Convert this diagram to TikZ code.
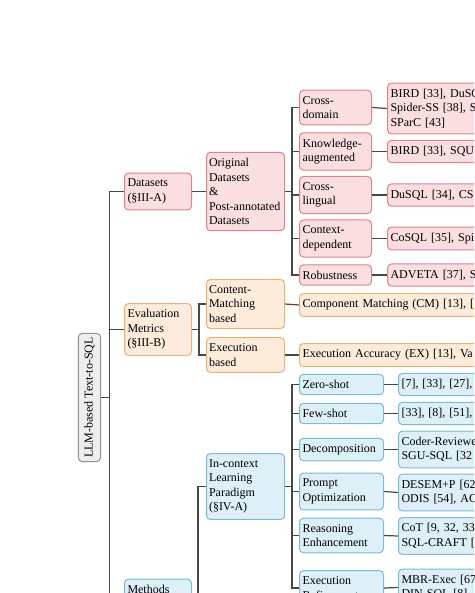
\documentclass[tikz,border=0pt]{standalone}
\usepackage{fontspec}
\setmainfont{Liberation Serif}
\usepackage{tikz}
\usetikzlibrary{shapes}

\definecolor{redfill}{RGB}{250,222,224}
\definecolor{redline}{RGB}{224,130,138}
\definecolor{orafill}{RGB}{253,236,220}
\definecolor{oraline}{RGB}{238,175,112}
\definecolor{blufill}{RGB}{221,240,248}
\definecolor{bluline}{RGB}{118,188,214}
\definecolor{grayfill}{RGB}{238,238,238}
\definecolor{grayline}{RGB}{145,145,145}
\definecolor{connline}{RGB}{72,72,72}

\tikzset{
  box/.style={draw, rounded corners=4pt, align=left, anchor=west, line width=1pt,
    inner xsep=3pt, inner ysep=6pt, font=\fontsize{12}{14.5}\selectfont},
  lvlone/.style={box, text width=61pt},
  lvltwo/.style={box, text width=73pt, inner xsep=2.5pt},
  redthree/.style={box, text width=66pt, fill=redfill, draw=redline},
  bluthree/.style={box, text width=78pt, fill=blufill, draw=bluline},
  leaf/.style={box, text width=220pt},
  redbox/.style={fill=redfill, draw=redline},
  orabox/.style={fill=orafill, draw=oraline},
  blubox/.style={fill=blufill, draw=bluline},
  conn/.style={draw=connline, line width=1.2pt}
}

\begin{document}
\begin{tikzpicture}[x=1pt, y=-1pt]
                    \useasboundingbox (0,0) rectangle (474,593);
                    \clip (0,0) rectangle (474,593);

                    % Define nodes
                    \node (root) at (89.5,397.5) [draw=grayline, fill=grayfill, rounded corners=4pt, rotate=90, line width=1pt,
                        inner xsep=3.7pt, inner ysep=6pt, font=\fontsize{12}{14.5}\selectfont] {LLM-based Text-to-SQL};

                    \node (ds) at (124,191.5) [lvlone, redbox] {Datasets\\(§III-A)};
                    \node (em) at (124,329.5) [lvlone, orabox] {Evaluation\\Metrics\\(§III-B)};
                    \node (me) at (124,596.5) [lvlone, blubox] {Methods\\\mbox{}};

                    \node (ori) at (206,191.5) [lvltwo, redbox] {Original\\Datasets\\\&\\Post-annotated\\Datasets};
                    \node (cmb) at (206,304) [lvltwo, orabox] {Content-\\Matching\\based};
                    \node (exb) at (206,355) [lvltwo, orabox] {Execution\\based};
                    \node (icl) at (206,486.5) [lvltwo, blubox] {In-context\\Learning\\Paradigm\\(§IV-A)};

                    \node (cdom) at (299,107.5) [redthree] {Cross-\\domain};
                    \node (kaug) at (299,151.5) [redthree] {Knowledge-\\augmented};
                    \node (clin) at (299,195) [redthree] {Cross-\\lingual};
                    \node (cdep) at (299,238.5) [redthree] {Context-\\dependent};
                    \node (rob) at (299,275) [redthree] {Robustness};

                    \node (cdomL) at (387,108.5) [leaf, redbox] {BIRD [33], DuSQ\\Spider-SS [38], S\\SParC [43]};
                    \node (kaugL) at (387,151.5) [leaf, redbox] {BIRD [33], SQU};
                    \node (clinL) at (387,195) [leaf, redbox] {DuSQL [34], CS};
                    \node (cdepL) at (387,238.5) [leaf, redbox] {CoSQL [35], Spi};
                    \node (robL) at (387,275) [leaf, redbox] {ADVETA [37], S};

                    \node (cmbL) at (299,305) [leaf, orabox] {Component Matching (CM) [13], [};
                    \node (exbL) at (299,355) [leaf, orabox] {Execution Accuracy (EX) [13], Va};

                    \node (zs) at (299,384.5) [bluthree] {Zero-shot};
                    \node (fs) at (299,413.5) [bluthree] {Few-shot};
                    \node (dec) at (299,449.5) [bluthree] {Decomposition};
                    \node (po) at (299,491.5) [bluthree] {Prompt\\Optimization};
                    \node (reh) at (299,535.5) [bluthree] {Reasoning\\Enhancement};
                    \node (erf) at (299,588) [bluthree] {Execution\\Refinement};

                    \node (zsL) at (398,384.5) [leaf, blubox] {[7], [33], [27],};
                    \node (fsL) at (398,413.5) [leaf, blubox] {[33], [8], [51],};
                    \node (decL) at (398,449.5) [leaf, blubox] {Coder-Reviewe\\SGU-SQL [32};
                    \node (poL) at (398,492.5) [leaf, blubox] {DESEM+P [62\\ODIS [54], AC};
                    \node (rehL) at (398,536) [leaf, blubox] {CoT [9, 32, 33\\SQL-CRAFT [};
                    \node (erfL) at (398,587.5) [leaf, blubox] {MBR-Exec [67\\DIN-SQL [8],};

                    % Draw connectors
                    \foreach \child in {ds, em, me}
                        \draw[conn] (root.south) -- ++(8,0) |- (\child.west);
                    \draw[conn] (ds.east) -- (ori.west);
                    \foreach \child in {cmb, exb}
                        \draw[conn] (em.east) -- ++(7,0) |- (\child.west);
                    \draw[conn] (me.east) -- ++(6,0) |- (icl.west);
                    \foreach \child in {cdom, kaug, clin, cdep, rob}
                        \draw[conn] (ori.east) -- ++(7,0) |- (\child.west);
                    \foreach \child in {zs, fs, dec, po, reh, erf}
                        \draw[conn] (icl.east) -- ++(7,0) |- (\child.west);
                    \foreach \child in {cdom, kaug, clin, cdep, rob, zs, fs, dec, po, reh, erf}
                        \draw[conn] (\child.east) -- (\child L.west);
                    \draw[conn] (cmb.east) -- (cmbL.west);
                    \draw[conn] (exb.east) -- (exbL.west);
                \end{tikzpicture}
\end{document}
